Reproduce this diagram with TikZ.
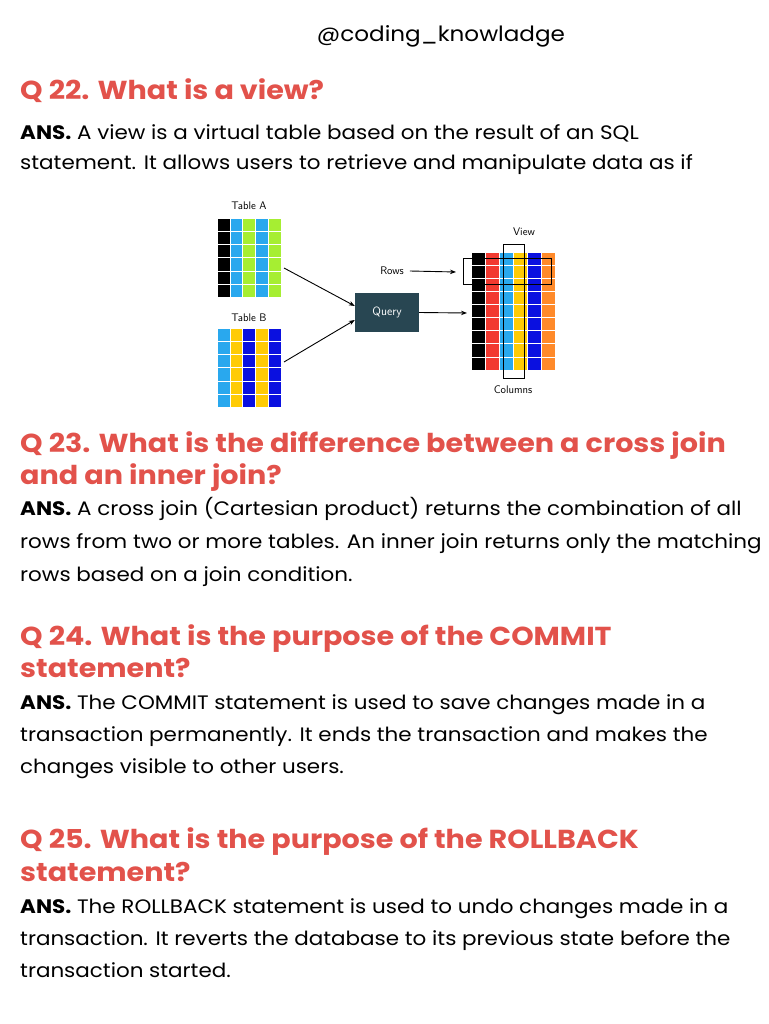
\documentclass[tikz,border=0pt]{standalone}
\usepackage{fontspec}
\usetikzlibrary{arrows.meta}
\setmainfont{Poppins}
\definecolor{qred}{HTML}{E2524B}
\definecolor{qteal}{HTML}{284652}
\definecolor{cblack}{HTML}{000000}
\definecolor{clb}{HTML}{29A8EE}
\definecolor{cgr}{HTML}{A6EE32}
\definecolor{cyel}{HTML}{FFCB05}
\definecolor{cblu}{HTML}{0A10E0}
\definecolor{cred}{HTML}{F23A30}
\definecolor{cor}{HTML}{FF8A2A}
\newcommand{\wide}[1]{\scalebox{1.1}[1]{#1}}
\tikzset{
 head/.style={anchor=base west,inner sep=0,text=qred,font=\fontsize{26}{26}\selectfont\bfseries},
 body/.style={anchor=base west,inner sep=0,font=\fontsize{19.5}{19}\selectfont},
 small/.style={inner sep=0,font=\sffamily\fontsize{11}{11}\selectfont},
 arr/.style={-{Stealth[length=6pt]},line width=0.9pt},
 frame/.style={draw=black,line width=0.8pt}
}
\newcommand{\cgrid}[6]{% x0 y0 colwidth rowheight rows {colors}
 \foreach \c [count=\i from 0] in {#6}{
  \foreach \r in {1,...,#5}{
   \fill[\c,draw=white,line width=0.5pt] ({#1+\i*#3},{#2+(\r-1)*#4}) rectangle ++(#3,#4);
  }}}
\begin{document}
\begin{tikzpicture}[x=1pt,y=-1pt]
\useasboundingbox (0,0) rectangle (768,1024);
\fill[white] (0,0) rectangle (768,1024);
\node[inner sep=0,font=\fontsize{21}{21}\selectfont] (title) at (441,36) {\wide{@coding\_knowladge}};
\node[head] (q22) at (20,100) {\wide{Q 22. What is a view?}};
\node[body] (a22a) at (20,140) {\wide{\textbf{ANS.} A view is a virtual table based on the result of an SQL}};
\node[body] (a22b) at (20,170) {\wide{statement. It allows users to retrieve and manipulate data as if}};
% diagram
\cgrid{217}{218}{12.8}{13.2}{6}{cblack,clb,cgr,clb,cgr}
\cgrid{217}{328}{12.8}{13.2}{6}{clb,cyel,cblu,cyel,cblu}
\cgrid{471}{252}{14}{13.1}{9}{cblack,cred,clb,cyel,cblu,cor}
\node[small] (ta) at (249,206) {Table A};
\node[small] (tb) at (249,318) {Table B};
\coordinate (aout) at (284,268);
\coordinate (bout) at (284,362);
\node[fill=qteal,minimum width=64pt,minimum height=39pt,inner sep=0,text=white,font=\sffamily\fontsize{12}{12}\selectfont] (query) at (387,312.5) {Query};
\draw[arr] (aout) -- (query.north west |- 0,306);
\draw[arr] (bout) -- (query.north west |- 0,320);
\coordinate (vin) at (467,313);
\draw[arr] (query.east) -- (vin);
\node[small] (rows) at (392,271) {Rows};
\coordinate (rowsin) at (456,272);
\draw[arr] (rows.east)++(6,0) -- (rowsin);
\node[frame,minimum width=88pt,minimum height=26pt,inner sep=0] (rowbox) at (507,271) {};
\node[frame,minimum width=21pt,minimum height=134pt,inner sep=0] (colbox) at (513.5,311) {};
\node[small] (view) at (524,232) {View};
\node[small] (cols) at (513,390) {Columns};
% Q23
\node[head] (q23) at (20,452) {\wide{Q 23. What is the difference between a cross join}};
\node[head] (q23b) at (20,484) {\wide{and an inner join?}};
\node[body] (a23a) at (20,515) {\wide{\textbf{ANS.} A cross join (Cartesian product) returns the combination of all}};
\node[body] (a23b) at (20,548) {\wide{rows from two or more tables. An inner join returns only the matching}};
\node[body] (a23c) at (20,581) {\wide{rows based on a join condition.}};
% Q24
\node[head] (q24) at (20,645) {\wide{Q 24. What is the purpose of the COMMIT}};
\node[head] (q24b) at (20,677) {\wide{statement?}};
\node[body] (a24a) at (20,709) {\wide{\textbf{ANS.} The COMMIT statement is used to save changes made in a}};
\node[body] (a24b) at (20,741) {\wide{transaction permanently. It ends the transaction and makes the}};
\node[body] (a24c) at (20,773) {\wide{changes visible to other users.}};
% Q25
\node[head] (q25) at (20,848) {\wide{Q 25. What is the purpose of the ROLLBACK}};
\node[head] (q25b) at (20,881) {\wide{statement?}};
\node[body] (a25a) at (20,913) {\wide{\textbf{ANS.} The ROLLBACK statement is used to undo changes made in a}};
\node[body] (a25b) at (20,945) {\wide{transaction. It reverts the database to its previous state before the}};
\node[body] (a25c) at (20,977) {\wide{transaction started.}};
\end{tikzpicture}
\end{document}
